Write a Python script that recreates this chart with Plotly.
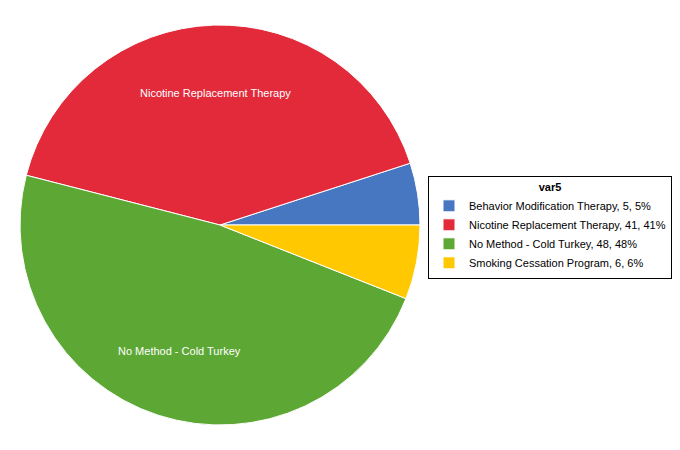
import math
import plotly.graph_objects as go

categories = ["Behavior Modification Therapy", "Nicotine Replacement Therapy",
              "No Method - Cold Turkey", "Smoking Cessation Program"]
values = [5, 41, 48, 6]
colors = ["#4677C0", "#E32A3A", "#5DA834", "#FFC800"]
legend_title = "var5"

total = sum(values)
pcts = [round(v * 100 / total) for v in values]
legend_labels = [f"{c}, {v}, {p}%" for c, v, p in zip(categories, values, pcts)]

W, H = 680, 450
OFF = 8  # page body margin offsets the figure by 8px
cx, cy, r = 220 - OFF, 225 - OFF, 200
start_deg = 0  # first slice starts at 3 o'clock, going counterclockwise

fig = go.Figure(go.Pie(
    labels=legend_labels,
    values=values,
    textinfo="none",
    marker=dict(colors=colors, line=dict(color="white", width=1)),
    sort=False,
    direction="counterclockwise",
    rotation=90 - start_deg - values[0] * 360 / total,
    hole=0,
    domain=dict(x=[(cx - r) / W, (cx + r) / W], y=[(H - cy - r) / H, (H - cy + r) / H]),
))

# labels inside the large slices, at 2/3 of the radius along each slice's mid-angle
annotations = []
cum = 0
for c, v, p in zip(categories, values, pcts):
    mid = math.radians(start_deg + (cum + v / 2) * 360 / total)
    cum += v
    if p < 10:
        continue
    px = cx + 0.66 * r * math.cos(mid)
    py = cy - 0.66 * r * math.sin(mid)
    annotations.append(dict(
        x=px / W, y=1 - py / H, xref="paper", yref="paper",
        text=c, showarrow=False, xanchor="center", yanchor="middle",
        font=dict(color="white", size=11, family="Liberation Sans, Arial"),
    ))

fig.update_layout(
    width=W, height=H,
    margin=dict(l=0, r=0, t=0, b=0),
    paper_bgcolor="white",
    font=dict(family="Liberation Sans, Arial", size=11, color="black"),
    annotations=annotations,
    legend=dict(
        x=(428 - OFF) / W, y=1 - (176 - OFF) / H, xanchor="left", yanchor="top",
        bordercolor="black", borderwidth=1, bgcolor="white",
        title=dict(text="<b>" + legend_title + "</b>", side="top center",
                   font=dict(size=11)),
        font=dict(size=11),
        itemwidth=30,
        tracegroupgap=0,
    ),
    showlegend=True,
)

fig.write_html("out.html")
